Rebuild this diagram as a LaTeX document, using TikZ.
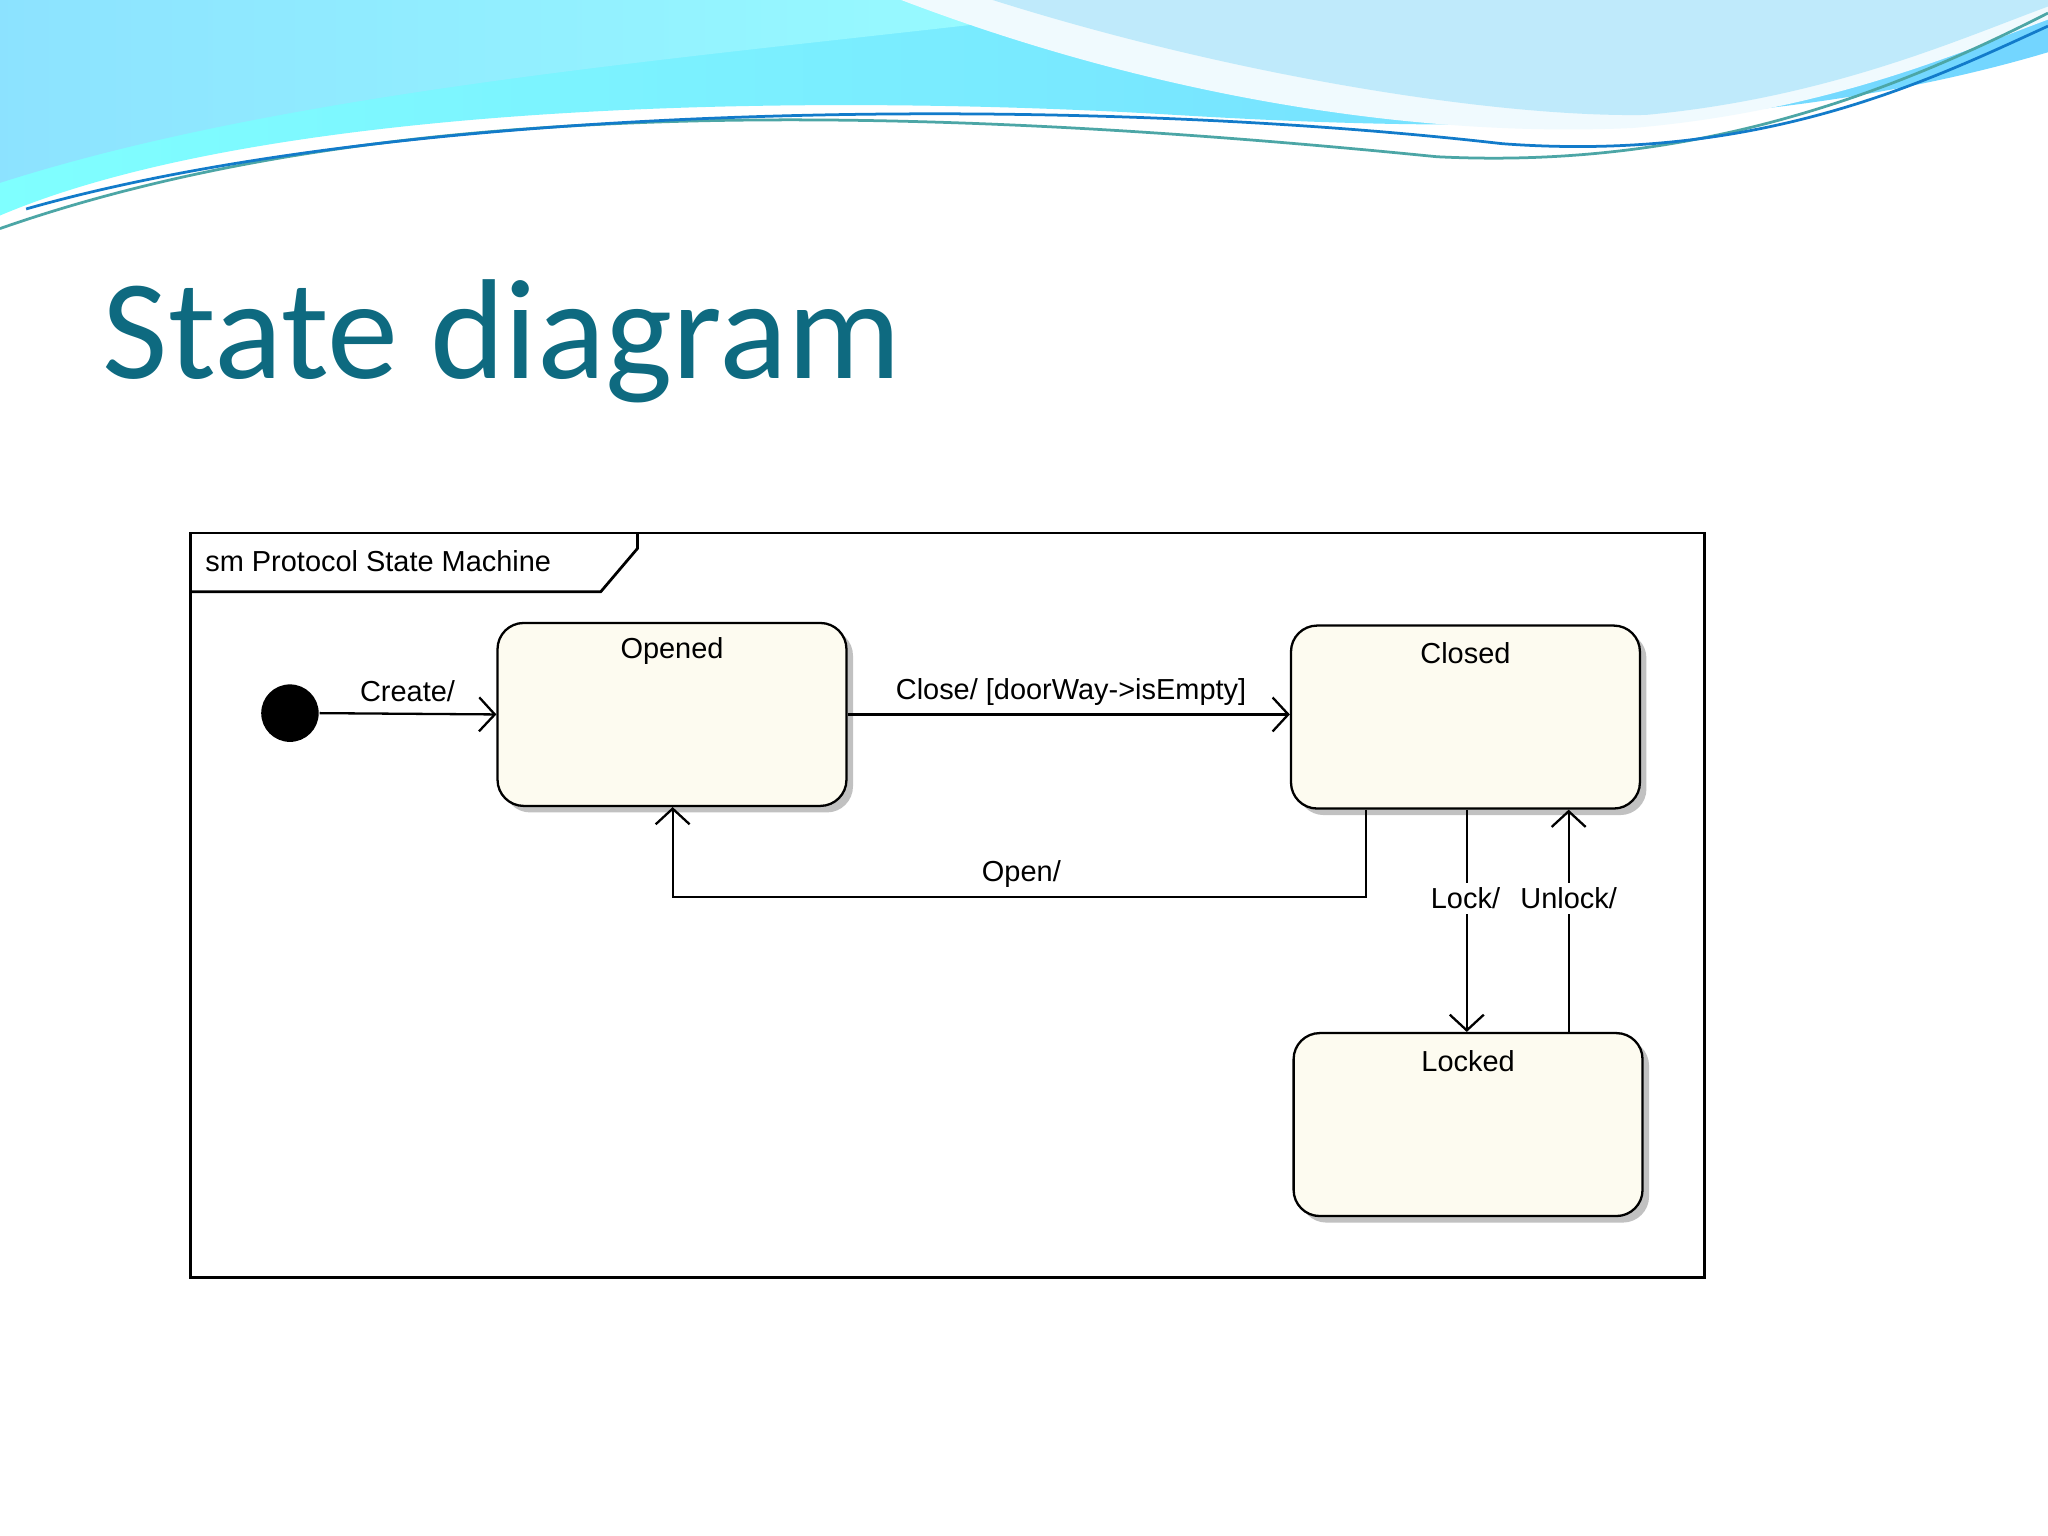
\documentclass[tikz,border=0pt]{standalone}
\usepackage{fontspec}
\setmainfont{Liberation Sans}
\newfontfamily\titlefont{Carlito}
\usetikzlibrary{arrows.meta,shadows}
\definecolor{ttl}{HTML}{0E6A80}
\definecolor{stfill}{HTML}{FDFBF0}
\tikzset{
  statebox/.style={draw=black,line width=0.5pt,rounded corners=0.2cm,fill=stfill,minimum width=2.67cm,minimum height=1.4cm,inner sep=0pt,drop shadow={shadow xshift=0.05cm,shadow yshift=-0.05cm,fill=gray!60,opacity=0.8}},
  txt/.style={font=\fontsize{6.3}{8}\selectfont,inner sep=1pt},
  lbl/.style={txt,fill=white},
  tr/.style={line width=0.5pt,-{Straight Barb[length=0.12cm,width=0.26cm]}},
}
\begin{document}
\begin{tikzpicture}[x=0.01cm,y=-0.01cm]
\useasboundingbox (0,0) rectangle (1568,1176);
\fill[white!96!blue!2] (0,0) rectangle (1568,1176);
% top wave
\shade[left color=cyan!50!white,right color=blue!30!cyan!55!white] (0,0) -- (1568,0) -- (1568,40) .. controls (1350,105) and (1100,100) .. (900,88) .. controls (600,70) and (200,80) .. (0,165) -- cycle;
\shade[left color=blue!25!cyan!45!white,right color=cyan!40!white] (0,0) -- (900,0) .. controls (600,40) and (250,60) .. (0,140) -- cycle;
\fill[white!94!cyan] (690,0) .. controls (900,80) and (1100,105) .. (1250,98) .. controls (1400,85) and (1500,40) .. (1568,15) -- (1568,0) -- cycle;
\fill[cyan!25!white] (760,0) .. controls (950,60) and (1150,90) .. (1260,88) .. controls (1400,75) and (1500,30) .. (1568,5) -- (1568,0) -- cycle;
\draw[teal!70,line width=0.6pt] (0,175) .. controls (300,70) and (700,80) .. (1100,120) .. controls (1300,130) and (1450,70) .. (1568,10);
\draw[cyan!60!blue,line width=0.6pt] (20,160) .. controls (300,80) and (800,70) .. (1150,110) .. controls (1350,125) and (1480,60) .. (1568,20);
% title
\node[anchor=base west,inner sep=0pt,text=ttl,font=\titlefont\fontsize{31}{34}\selectfont] (title) at (78,290) {State diagram};
% frame
\draw[line width=0.6pt] (146,408) rectangle (1305,978);
\draw[line width=0.6pt] (146,453) -- (460,453) -- (488,420) -- (488,408);
\node[txt,anchor=west] (frm) at (153,430) {sm Protocol State Machine};
% states
\node[statebox] (o) at (514.5,547) {};
\node[statebox] (c) at (1122,549) {};
\node[statebox] (l) at (1124,861) {};
\node[txt] (ot) at ([yshift=-0.22cm]o.north) {Opened};
\node[txt] (ct) at ([yshift=-0.22cm]c.north) {Closed};
\node[txt] (lt) at ([yshift=-0.22cm]l.north) {Locked};
\node[circle,fill=black,inner sep=0pt,minimum size=0.44cm] (i) at (222,546) {};
% transitions
\draw[tr] (i.east) -- (o.west |- 0,547);
\node[txt] (cr) at (312,529) {Create/};
\draw[tr] (o.east |- 0,547) -- (c.west |- 0,547);
\node[txt] (cl) at (820,530) {Close/ [doorWay->isEmpty]};
\coordinate (a1) at (1046,687);
\coordinate (a2) at (515,687);
\draw[tr] (c.south -| 1046,0) -- (a1) -- (a2) -- (o.south -| 515,0);
\node[txt] (op) at (782,669) {Open/};
\draw[tr] (c.south -| 1123,0) -- (l.north -| 1123,0);
\draw[tr] (l.north -| 1201,0) -- (c.south -| 1201,0);
\node[lbl] (lk) at (1122,688) {Lock/};
\node[lbl] (ul) at (1201,688) {Unlock/};
\end{tikzpicture}
\end{document}
